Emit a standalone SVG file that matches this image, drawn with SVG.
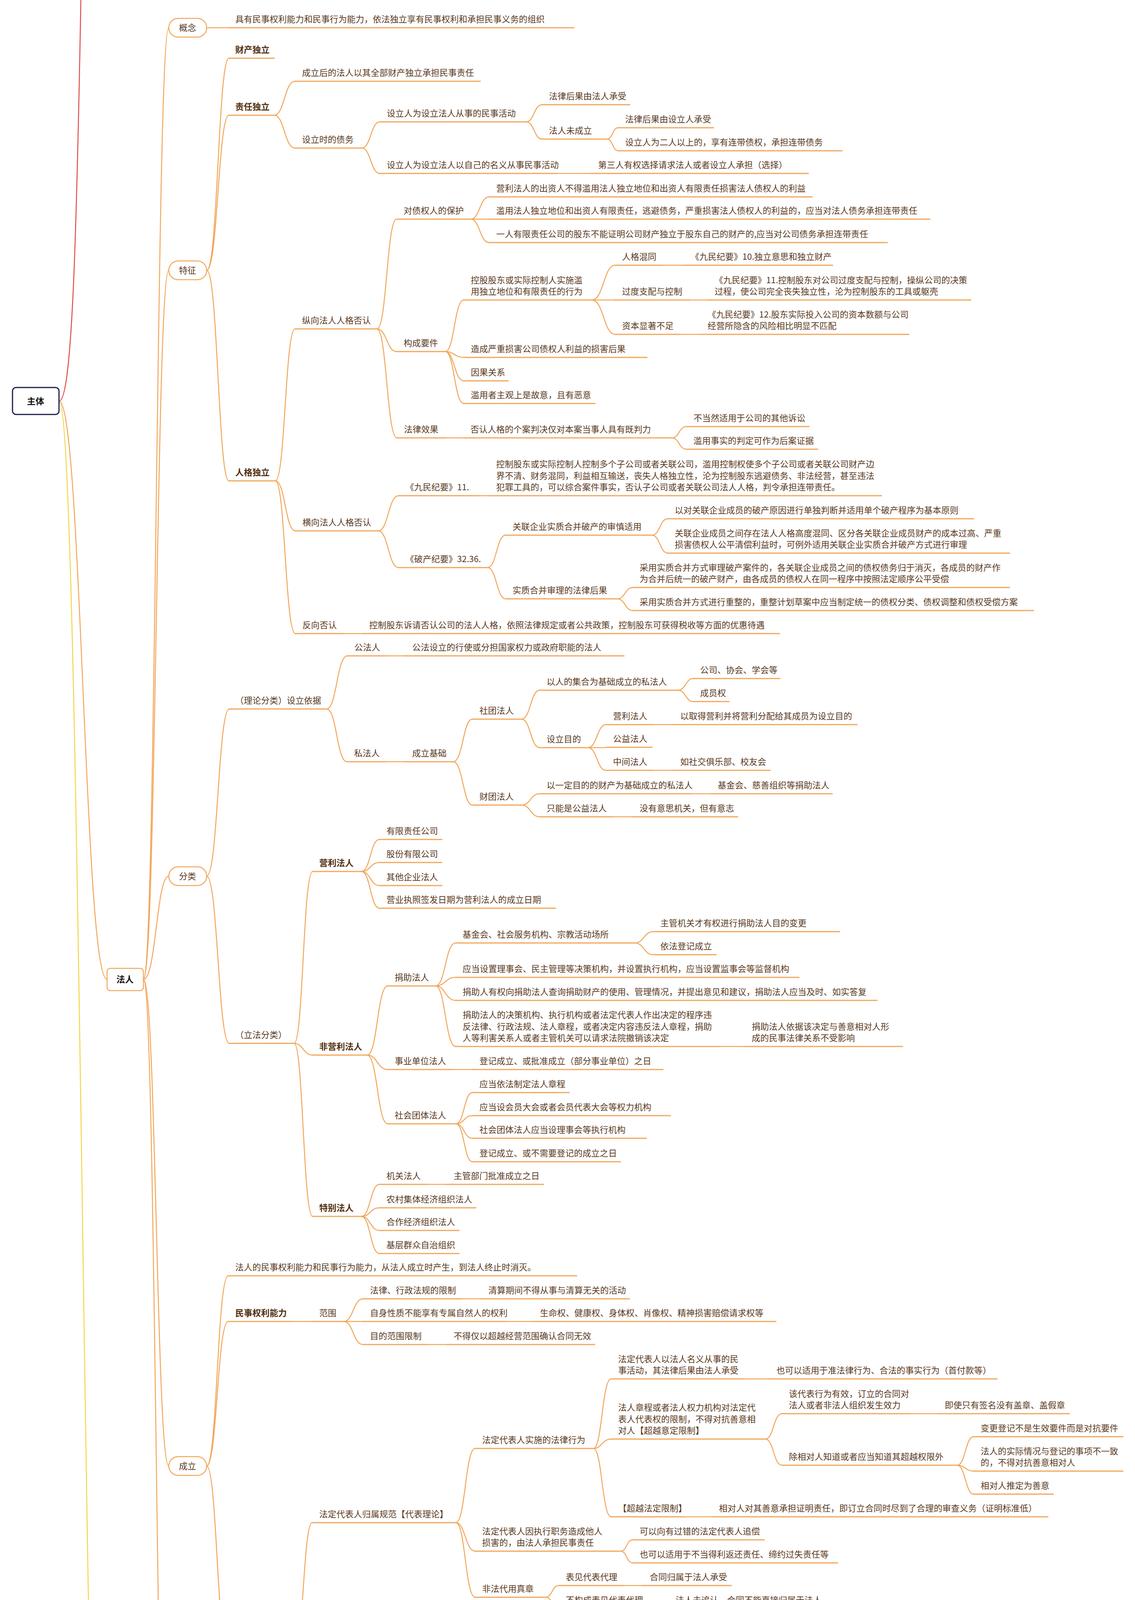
<svg xmlns="http://www.w3.org/2000/svg" width="2905" height="5677" viewBox="0 0 2905 5677">
<style>
.t{font-family:'Noto Sans CJK SC','Noto Sans',sans-serif;font-size:22px;fill:#5a3a1e}
.b{font-weight:700;fill:#52300f}
.k{font-family:'Noto Sans CJK SC','Noto Sans',sans-serif;font-size:22px;font-weight:700;fill:#111;text-anchor:middle}
.pt{text-anchor:middle}
.ty{font-family:'Noto Sans CJK SC','Noto Sans',sans-serif;font-size:22px;fill:#5b4a1c}
.u{stroke:#F2A65A;stroke-width:3;fill:none;stroke-linecap:round}
.uy{stroke:#F2D548;stroke-width:3;fill:none;stroke-linecap:round}
.c path{stroke:#F2A65A;stroke-width:2.5;fill:none}
.c path.y{stroke:#F2D548}
.c path.r{stroke:#E04A4A}
.pill{fill:#fff;stroke:#F2A65A;stroke-width:2.5}
.pilly{fill:#fff;stroke:#F2D548;stroke-width:2.5}
</style>
<rect width="2905" height="5677" fill="#fff"/>
<g id="connectors" class="c">
<path class="r" d="M151 1027 C185 1027 196 600 207 0"/>
<path d="M151 1027 C210 1027 215 2507 274 2507"/>
<path class="y" d="M151 1027 C210 1027 215 5395 274 5395"/>
<path d="M367 2507 C400 2507 400 71 432 71"/>
<path d="M367 2507 C400 2507 400 692 432 692"/>
<path d="M367 2507 C400 2507 400 2243 432 2243"/>
<path d="M367 2507 C400 2507 400 3753 432 3753"/>
<path d="M367 2507 C400 2507 400 4945 432 4945"/>
<path d="M529 71 H584"/>
<path d="M529 692 C558 692 558 149 586 149"/>
<path d="M529 692 C558 692 558 295 586 295"/>
<path d="M529 692 C558 692 558 1231 586 1231"/>
<path d="M702 295 C728 295 728 208 755 208"/>
<path d="M702 295 C728 295 728 379 755 379"/>
<path d="M926 379 C949 379 949 312 972 312"/>
<path d="M926 379 C949 379 949 444 972 444"/>
<path d="M1347 312 C1367 312 1367 268 1387 268"/>
<path d="M1347 312 C1367 312 1367 356 1387 356"/>
<path d="M1554 356 C1568 356 1568 327 1582 327"/>
<path d="M1554 356 C1568 356 1568 386 1582 386"/>
<path d="M1425 444 H1513"/>
<path d="M705 1231 C730 1231 730 842 755 842"/>
<path d="M705 1231 C730 1231 730 1359 756 1359"/>
<path d="M705 1231 C730 1231 730 1622 756 1622"/>
<path d="M965 842 C990 842 990 561 1015 561"/>
<path d="M965 842 C990 842 990 900 1015 900"/>
<path d="M965 842 C990 842 990 1121 1016 1121"/>
<path d="M1205 561 C1228 561 1228 504 1252 504"/>
<path d="M1205 561 H1252"/>
<path d="M1205 561 C1228 561 1228 621 1252 621"/>
<path d="M1140 900 C1163 900 1163 768 1187 768"/>
<path d="M1140 900 C1163 900 1163 915 1187 915"/>
<path d="M1140 900 C1163 900 1163 975 1187 975"/>
<path d="M1140 900 C1163 900 1163 1033 1187 1033"/>
<path d="M1515 768 C1545 768 1545 679 1574 679"/>
<path d="M1515 768 H1574"/>
<path d="M1515 768 C1545 768 1545 856 1574 856"/>
<path d="M1695 679 H1750"/>
<path d="M1765 768 H1811"/>
<path d="M1740 856 H1793"/>
<path d="M1140 1121 H1186"/>
<path d="M1720 1121 C1738 1121 1738 1092 1757 1092"/>
<path d="M1720 1121 C1738 1121 1738 1150 1757 1150"/>
<path d="M968 1359 C994 1359 994 1269 1020 1269"/>
<path d="M968 1359 C994 1359 994 1453 1020 1453"/>
<path d="M1230 1269 H1252"/>
<path d="M1248 1453 C1271 1453 1271 1370 1294 1370"/>
<path d="M1248 1453 C1271 1453 1271 1533 1294 1533"/>
<path d="M1669 1370 C1689 1370 1689 1328 1709 1328"/>
<path d="M1669 1370 C1689 1370 1689 1416 1709 1416"/>
<path d="M1580 1533 C1600 1533 1600 1504 1619 1504"/>
<path d="M1580 1533 C1600 1533 1600 1563 1619 1563"/>
<path d="M880 1622 H927"/>
<path d="M529 2243 C558 2243 558 1815 587 1815"/>
<path d="M529 2243 C558 2243 558 2671 587 2671"/>
<path d="M836 1815 C862 1815 862 1679 889 1679"/>
<path d="M836 1815 C862 1815 862 1950 888 1950"/>
<path d="M988 1679 H1037"/>
<path d="M988 1950 H1037"/>
<path d="M1160 1950 C1185 1950 1185 1841 1209 1841"/>
<path d="M1160 1950 C1185 1950 1185 2061 1209 2061"/>
<path d="M1335 1841 C1358 1841 1358 1767 1381 1767"/>
<path d="M1335 1841 C1358 1841 1358 1914 1381 1914"/>
<path d="M1735 1767 C1755 1767 1755 1737 1774 1737"/>
<path d="M1735 1767 C1755 1767 1755 1796 1774 1796"/>
<path d="M1505 1914 C1528 1914 1528 1855 1551 1855"/>
<path d="M1505 1914 H1551"/>
<path d="M1505 1914 C1528 1914 1528 1972 1551 1972"/>
<path d="M1672 1855 H1723"/>
<path d="M1672 1972 H1723"/>
<path d="M1335 2061 C1358 2061 1358 2032 1381 2032"/>
<path d="M1335 2061 C1358 2061 1358 2091 1381 2091"/>
<path d="M1768 2032 H1819"/>
<path d="M1568 2091 H1619"/>
<path d="M753 2671 C776 2671 776 2231 800 2231"/>
<path d="M753 2671 C776 2671 776 2701 800 2701"/>
<path d="M753 2671 C776 2671 776 3114 800 3114"/>
<path d="M925 2231 C948 2231 948 2149 971 2149"/>
<path d="M925 2231 C948 2231 948 2208 971 2208"/>
<path d="M925 2231 C948 2231 948 2267 971 2267"/>
<path d="M925 2231 C948 2231 948 2325 971 2325"/>
<path d="M940 2701 C966 2701 966 2524 992 2524"/>
<path d="M940 2701 C966 2701 966 2738 992 2738"/>
<path d="M940 2701 C966 2701 966 2877 992 2877"/>
<path d="M1115 2524 C1140 2524 1140 2414 1166 2414"/>
<path d="M1115 2524 C1140 2524 1140 2502 1166 2502"/>
<path d="M1115 2524 C1140 2524 1140 2561 1166 2561"/>
<path d="M1115 2524 C1140 2524 1140 2679 1166 2679"/>
<path d="M1625 2414 C1648 2414 1648 2385 1672 2385"/>
<path d="M1625 2414 C1648 2414 1648 2444 1672 2444"/>
<path d="M1840 2679 H1906"/>
<path d="M1157 2738 H1209"/>
<path d="M1167 2877 C1188 2877 1188 2797 1209 2797"/>
<path d="M1167 2877 C1188 2877 1188 2856 1209 2856"/>
<path d="M1167 2877 C1188 2877 1188 2914 1209 2914"/>
<path d="M1167 2877 C1188 2877 1188 2974 1209 2974"/>
<path d="M925 3114 C948 3114 948 3032 971 3032"/>
<path d="M925 3114 C948 3114 948 3092 971 3092"/>
<path d="M925 3114 C948 3114 948 3150 971 3150"/>
<path d="M925 3114 C948 3114 948 3209 971 3209"/>
<path d="M1092 3032 H1143"/>
<path d="M529 3753 C556 3753 556 3266 584 3266"/>
<path d="M529 3753 C556 3753 556 3383 584 3383"/>
<path d="M529 3753 C556 3753 556 4240 584 4240"/>
<path d="M746 3383 H799"/>
<path d="M880 3383 C904 3383 904 3325 929 3325"/>
<path d="M880 3383 H929"/>
<path d="M880 3383 C904 3383 904 3442 929 3442"/>
<path d="M1182 3325 H1232"/>
<path d="M1292 3383 H1364"/>
<path d="M1094 3442 H1143"/>
<path d="M753 4240 C776 4240 776 3898 799 3898"/>
<path d="M753 4240 C776 4240 776 4340 799 4340"/>
<path d="M753 4240 C776 4240 776 4582 799 4582"/>
<path d="M1167 3898 C1191 3898 1191 3708 1216 3708"/>
<path d="M1167 3898 C1191 3898 1191 3971 1216 3971"/>
<path d="M1167 3898 C1191 3898 1191 4089 1216 4089"/>
<path d="M1519 3708 C1541 3708 1541 3530 1564 3530"/>
<path d="M1519 3708 C1541 3708 1541 3684 1564 3684"/>
<path d="M1519 3708 C1541 3708 1541 3883 1564 3883"/>
<path d="M1905 3530 H1969"/>
<path d="M1959 3684 C1980 3684 1980 3619 2001 3619"/>
<path d="M1959 3684 C1980 3684 1980 3751 2001 3751"/>
<path d="M2330 3619 H2400"/>
<path d="M2450 3751 C2471 3751 2471 3678 2492 3678"/>
<path d="M2450 3751 C2471 3751 2471 3766 2492 3766"/>
<path d="M2450 3751 C2471 3751 2471 3825 2492 3825"/>
<path d="M1751 3883 H1822"/>
<path d="M1589 3971 C1604 3971 1604 3942 1619 3942"/>
<path d="M1589 3971 C1604 3971 1604 4001 1619 4001"/>
<path d="M1397 4089 C1413 4089 1413 4059 1430 4059"/>
<path d="M1397 4089 C1413 4089 1413 4118 1430 4118"/>
<path d="M1595 4059 H1645"/>
<path d="M1661 4118 H1711"/>
<path d="M1027 4340 C1043 4340 1043 4266 1060 4266"/>
<path d="M1027 4340 C1043 4340 1043 4414 1060 4414"/>
<path d="M1544 4266 C1562 4266 1562 4207 1580 4207"/>
<path d="M1544 4266 C1562 4266 1562 4325 1580 4325"/>
<path d="M2085 4207 C2108 4207 2108 4178 2131 4178"/>
<path d="M2085 4207 C2108 4207 2108 4237 2131 4237"/>
<path d="M1920 4325 H1989"/>
<path d="M1454 4414 C1475 4414 1475 4384 1496 4384"/>
<path d="M1454 4414 C1475 4414 1475 4443 1496 4443"/>
<path d="M925 4582 C948 4582 948 4502 971 4502"/>
<path d="M925 4582 C948 4582 948 4560 971 4560"/>
<path d="M925 4582 C948 4582 948 4619 971 4619"/>
<path d="M925 4582 C948 4582 948 4678 971 4678"/>
<path d="M1092 4678 H1143"/>
<path d="M529 4945 C556 4945 556 4838 584 4838"/>
<path d="M529 4945 C556 4945 556 5051 584 5051"/>
<path d="M670 4838 C691 4838 691 4764 712 4764"/>
<path d="M670 4838 C691 4838 691 4853 712 4853"/>
<path d="M670 4838 C691 4838 691 4911 712 4911"/>
<path d="M800 4764 C820 4764 820 4734 839 4734"/>
<path d="M800 4764 C820 4764 820 4793 839 4793"/>
<path d="M833 4853 H884"/>
<path d="M877 4911 H926"/>
<path d="M937 5051 C957 5051 957 4970 977 4970"/>
<path d="M937 5051 C957 5051 957 5030 977 5030"/>
<path d="M937 5051 C957 5051 957 5117 977 5117"/>
<path class="y" d="M434 5395 C465 5395 465 5210 497 5210"/>
<path class="y" d="M434 5395 C465 5395 465 5349 497 5349"/>
<path class="y" d="M434 5395 C465 5395 465 5493 497 5493"/>
<path class="y" d="M434 5395 C465 5395 465 5580 497 5580"/>
<path class="y" d="M593 5210 H649"/>
<path class="y" d="M593 5349 C621 5349 621 5289 649 5289"/>
<path class="y" d="M593 5349 H649"/>
<path class="y" d="M593 5349 C621 5349 621 5407 649 5407"/>
<path class="y" d="M593 5493 C621 5493 621 5463 649 5463"/>
<path class="y" d="M593 5493 C621 5493 621 5523 649 5523"/>
<path class="y" d="M593 5580 H649"/>
</g>

<g id="root"><rect x="32" y="992" width="119" height="69" rx="9" fill="#fff" stroke="#1B1F4B" stroke-width="3"/><text class="k" x="91" y="1035">主体</text></g>
<g id="faren"><rect x="274" y="2479" width="93" height="57" rx="8" fill="#fff" stroke="#F2A65A" stroke-width="2.5"/><text class="k" x="320" y="2515">法人</text></g>
<g id="p-gainian"><rect class="pill" x="432" y="47" width="97" height="48" rx="24"/><text class="t pt" x="480" y="79">概念</text></g>
<g id="p-tezheng"><rect class="pill" x="432" y="668" width="97" height="48" rx="24"/><text class="t pt" x="480" y="700">特征</text></g>
<g id="p-fenlei"><rect class="pill" x="432" y="2219" width="97" height="48" rx="24"/><text class="t pt" x="480" y="2251">分类</text></g>
<g id="p-chengli"><rect class="pill" x="432" y="3729" width="97" height="48" rx="24"/><text class="t pt" x="480" y="3761">成立</text></g>
<g id="p-zhongzhi"><rect class="pill" x="432" y="4921" width="97" height="48" rx="24"/><text class="t pt" x="480" y="4953">终止</text></g>

<g id="n-gn1"><path class="u" d="M584 71 H1469"/><text class="t" x="602" y="57">具有民事权利能力和民事行为能力，依法独立享有民事权利和承担民事义务的组织</text></g>
<g id="n-cczl"><path class="u" d="M586 149 H702"/><text class="t b" x="602" y="135">财产独立</text></g>
<g id="n-zrzl"><path class="u" d="M586 295 H702"/><text class="t b" x="602" y="281">责任独立</text></g>
<g id="n-rgzl"><path class="u" d="M586 1231 H705"/><text class="t b" x="602" y="1217">人格独立</text></g>
<g id="n-z1"><path class="u" d="M755 208 H1229"/><text class="t" x="773" y="194">成立后的法人以其全部财产独立承担民事责任</text></g>
<g id="n-z2"><path class="u" d="M755 379 H926"/><text class="t" x="773" y="365">设立时的债务</text></g>
<g id="n-z21"><path class="u" d="M972 312 H1347"/><text class="t" x="990" y="298">设立人为设立法人从事的民事活动</text></g>
<g id="n-z211"><path class="u" d="M1387 268 H1612"/><text class="t" x="1405" y="254">法律后果由法人承受</text></g>
<g id="n-z212"><path class="u" d="M1387 356 H1554"/><text class="t" x="1405" y="342">法人未成立</text></g>
<g id="n-z2121"><path class="u" d="M1582 327 H1826"/><text class="t" x="1600" y="313">法律后果由设立人承受</text></g>
<g id="n-z2122"><path class="u" d="M1582 386 H2155"/><text class="t" x="1600" y="372">设立人为二人以上的，享有连带债权，承担连带债务</text></g>
<g id="n-z22"><path class="u" d="M972 444 H1425"/><text class="t" x="990" y="430">设立人为设立法人以自己的名义从事民事活动</text></g>
<g id="n-z221"><path class="u" d="M1513 444 H2069"/><text class="t" x="1531" y="430">第三人有权选择请求法人或者设立人承担（选择）</text></g>

<g id="n-zx"><path class="u" d="M755 842 H965"/><text class="t" x="773" y="828">纵向法人人格否认</text></g>
<g id="n-zx1"><path class="u" d="M1015 561 H1205"/><text class="t" x="1033" y="547">对债权人的保护</text></g>
<g id="n-zx11"><path class="u" d="M1252 504 H2079"/><text class="t" x="1270" y="490">营利法人的出资人不得滥用法人独立地位和出资人有限责任损害法人债权人的利益</text></g>
<g id="n-zx12"><path class="u" d="M1252 561 H2380"/><text class="t" x="1270" y="547">滥用法人独立地位和出资人有限责任，逃避债务，严重损害法人债权人的利益的，应当对法人债务承担连带责任</text></g>
<g id="n-zx13"><path class="u" d="M1252 621 H2271"/><text class="t" x="1270" y="607">一人有限责任公司的股东不能证明公司财产独立于股东自己的财产的,应当对公司债务承担连带责任</text></g>
<g id="n-zx2"><path class="u" d="M1015 900 H1140"/><text class="t" x="1033" y="886">构成要件</text></g>
<g id="n-zx21"><path class="u" d="M1187 768 H1515"/><text class="t" x="1205"><tspan x="1205" y="724.5">控股股东或实际控制人实施滥</tspan><tspan x="1205" y="754">用独立地位和有限责任的行为</tspan></text></g>
<g id="n-zx211"><path class="u" d="M1574 679 H1695"/><text class="t" x="1592" y="665">人格混同</text></g>
<g id="n-zx2111"><path class="u" d="M1750 679 H2131"/><text class="t" x="1768" y="665">《九民纪要》10.独立意思和独立财产</text></g>
<g id="n-zx212"><path class="u" d="M1574 768 H1765"/><text class="t" x="1592" y="754">过度支配与控制</text></g>
<g id="n-zx2121"><path class="u" d="M1811 768 H2485"/><text class="t" x="1829"><tspan x="1829" y="724.5">《九民纪要》11.控制股东对公司过度支配与控制，操纵公司的决策</tspan><tspan x="1829" y="754">过程，使公司完全丧失独立性，沦为控制股东的工具或躯壳</tspan></text></g>
<g id="n-zx213"><path class="u" d="M1574 856 H1740"/><text class="t" x="1592" y="842">资本显著不足</text></g>
<g id="n-zx2131"><path class="u" d="M1793 856 H2326"/><text class="t" x="1811"><tspan x="1811" y="812.5">《九民纪要》12.股东实际投入公司的资本数额与公司</tspan><tspan x="1811" y="842">经营所隐含的风险相比明显不匹配</tspan></text></g>
<g id="n-zx22"><path class="u" d="M1187 915 H1656"/><text class="t" x="1205" y="901">造成严重损害公司债权人利益的损害后果</text></g>
<g id="n-zx23"><path class="u" d="M1187 975 H1301"/><text class="t" x="1205" y="961">因果关系</text></g>
<g id="n-zx24"><path class="u" d="M1187 1033 H1523"/><text class="t" x="1205" y="1019">滥用者主观上是故意，且有恶意</text></g>
<g id="n-zx3"><path class="u" d="M1016 1121 H1140"/><text class="t" x="1034" y="1107">法律效果</text></g>
<g id="n-zx31"><path class="u" d="M1186 1121 H1720"/><text class="t" x="1204" y="1107">否认人格的个案判决仅对本案当事人具有既判力</text></g>
<g id="n-zx311"><path class="u" d="M1757 1092 H2071"/><text class="t" x="1775" y="1078">不当然适用于公司的其他诉讼</text></g>
<g id="n-zx312"><path class="u" d="M1757 1150 H2093"/><text class="t" x="1775" y="1136">滥用事实的判定可作为后案证据</text></g>

<g id="n-hx"><path class="u" d="M756 1359 H968"/><text class="t" x="774" y="1345">横向法人人格否认</text></g>
<g id="n-hx1"><path class="u" d="M1020 1269 H1230"/><text class="t" x="1038" y="1255">《九民纪要》11.</text></g>
<g id="n-hx11"><path class="u" d="M1252 1269 H2256"/><text class="t" x="1270"><tspan x="1270" y="1196">控制股东或实际控制人控制多个子公司或者关联公司，滥用控制权使多个子公司或者关联公司财产边</tspan><tspan x="1270" y="1225.5">界不清、财务混同，利益相互输送，丧失人格独立性，沦为控制股东逃避债务、非法经营，甚至违法</tspan><tspan x="1270" y="1255">犯罪工具的，可以综合案件事实，否认子公司或者关联公司法人人格，判令承担连带责任。</tspan></text></g>
<g id="n-hx2"><path class="u" d="M1020 1453 H1248"/><text class="t" x="1038" y="1439">《破产纪要》32.36.</text></g>
<g id="n-hx21"><path class="u" d="M1294 1370 H1669"/><text class="t" x="1312" y="1356">关联企业实质合并破产的审慎适用</text></g>
<g id="n-hx211"><path class="u" d="M1709 1328 H2492"/><text class="t" x="1727" y="1314">以对关联企业成员的破产原因进行单独判断并适用单个破产程序为基本原则</text></g>
<g id="n-hx212"><path class="u" d="M1709 1416 H2584"/><text class="t" x="1727"><tspan x="1727" y="1372.5">关联企业成员之间存在法人人格高度混同、区分各关联企业成员财产的成本过高、严重</tspan><tspan x="1727" y="1402">损害债权人公平清偿利益时，可例外适用关联企业实质合并破产方式进行审理</tspan></text></g>
<g id="n-hx22"><path class="u" d="M1294 1533 H1580"/><text class="t" x="1312" y="1519">实质合并审理的法律后果</text></g>
<g id="n-hx221"><path class="u" d="M1619 1504 H2584"/><text class="t" x="1637"><tspan x="1637" y="1460.5">采用实质合并方式审理破产案件的，各关联企业成员之间的债权债务归于消灭，各成员的财产作</tspan><tspan x="1637" y="1490">为合并后统一的破产财产，由各成员的债权人在同一程序中按照法定顺序公平受偿</tspan></text></g>
<g id="n-hx222"><path class="u" d="M1619 1563 H2645"/><text class="t" x="1637" y="1549">采用实质合并方式进行重整的，重整计划草案中应当制定统一的债权分类、债权调整和债权受偿方案</text></g>
<g id="n-fx"><path class="u" d="M756 1622 H880"/><text class="t" x="774" y="1608">反向否认</text></g>
<g id="n-fx1"><path class="u" d="M927 1622 H1995"/><text class="t" x="945" y="1608">控制股东诉请否认公司的法人人格，依照法律规定或者公共政策，控制股东可获得税收等方面的优惠待遇</text></g>

<g id="n-ll"><path class="u" d="M587 1815 H836"/><text class="t" x="602" y="1801">（理论分类）设立依据</text></g>
<g id="n-gfr"><path class="u" d="M889 1679 H988"/><text class="t" x="907" y="1665">公法人</text></g>
<g id="n-gfr1"><path class="u" d="M1037 1679 H1597"/><text class="t" x="1055" y="1665">公法设立的行使或分担国家权力或政府职能的法人</text></g>
<g id="n-sfr"><path class="u" d="M888 1950 H988"/><text class="t" x="906" y="1936">私法人</text></g>
<g id="n-cljc"><path class="u" d="M1037 1950 H1160"/><text class="t" x="1055" y="1936">成立基础</text></g>
<g id="n-stfr"><path class="u" d="M1209 1841 H1335"/><text class="t" x="1227" y="1827">社团法人</text></g>
<g id="n-st1"><path class="u" d="M1381 1767 H1735"/><text class="t" x="1399" y="1753">以人的集合为基础成立的私法人</text></g>
<g id="n-st11"><path class="u" d="M1774 1737 H1996"/><text class="t" x="1792" y="1723">公司、协会、学会等</text></g>
<g id="n-st12"><path class="u" d="M1774 1796 H1866"/><text class="t" x="1792" y="1782">成员权</text></g>
<g id="n-st2"><path class="u" d="M1381 1914 H1505"/><text class="t" x="1399" y="1900">设立目的</text></g>
<g id="n-st21"><path class="u" d="M1551 1855 H1672"/><text class="t" x="1569" y="1841">营利法人</text></g>
<g id="n-st211"><path class="u" d="M1723 1855 H2194"/><text class="t" x="1741" y="1841">以取得营利并将营利分配给其成员为设立目的</text></g>
<g id="n-st22"><path class="u" d="M1551 1913 H1669"/><text class="t" x="1569" y="1899">公益法人</text></g>
<g id="n-st23"><path class="u" d="M1551 1972 H1672"/><text class="t" x="1569" y="1958">中间法人</text></g>
<g id="n-st231"><path class="u" d="M1723 1972 H1971"/><text class="t" x="1741" y="1958">如社交俱乐部、校友会</text></g>
<g id="n-ctfr"><path class="u" d="M1209 2061 H1335"/><text class="t" x="1227" y="2047">财团法人</text></g>
<g id="n-ct1"><path class="u" d="M1381 2032 H1768"/><text class="t" x="1399" y="2018">以一定目的的财产为基础成立的私法人</text></g>
<g id="n-ct11"><path class="u" d="M1819 2032 H2130"/><text class="t" x="1837" y="2018">基金会、慈善组织等捐助法人</text></g>
<g id="n-ct2"><path class="u" d="M1381 2091 H1568"/><text class="t" x="1399" y="2077">只能是公益法人</text></g>
<g id="n-ct21"><path class="u" d="M1619 2091 H1888"/><text class="t" x="1637" y="2077">没有意思机关，但有意志</text></g>

<g id="n-lf"><path class="u" d="M587 2671 H753"/><text class="t" x="602" y="2657">（立法分类）</text></g>
<g id="n-ylfr"><path class="u" d="M800 2231 H925"/><text class="t b" x="817" y="2217">营利法人</text></g>
<g id="n-yl1"><path class="u" d="M971 2149 H1131"/><text class="t" x="989" y="2135">有限责任公司</text></g>
<g id="n-yl2"><path class="u" d="M971 2208 H1131"/><text class="t" x="989" y="2194">股份有限公司</text></g>
<g id="n-yl3"><path class="u" d="M971 2267 H1131"/><text class="t" x="989" y="2253">其他企业法人</text></g>
<g id="n-yl4"><path class="u" d="M971 2325 H1422"/><text class="t" x="989" y="2311">营业执照签发日期为营利法人的成立日期</text></g>
<g id="n-fylfr"><path class="u" d="M800 2701 H940"/><text class="t b" x="817" y="2687">非营利法人</text></g>
<g id="n-jzfr"><path class="u" d="M992 2524 H1115"/><text class="t" x="1010" y="2510">捐助法人</text></g>
<g id="n-jz1"><path class="u" d="M1166 2414 H1625"/><text class="t" x="1184" y="2400">基金会、社会服务机构、宗教活动场所</text></g>
<g id="n-jz11"><path class="u" d="M1672 2385 H2149"/><text class="t" x="1690" y="2371">主管机关才有权进行捐助法人目的变更</text></g>
<g id="n-jz12"><path class="u" d="M1672 2444 H1833"/><text class="t" x="1690" y="2430">依法登记成立</text></g>
<g id="n-jz2"><path class="u" d="M1166 2502 H2045"/><text class="t" x="1184" y="2488">应当设置理事会、民主管理等决策机构，并设置执行机构，应当设置监事会等监督机构</text></g>
<g id="n-jz3"><path class="u" d="M1166 2561 H2245"/><text class="t" x="1184" y="2547">捐助人有权向捐助法人查询捐助财产的使用、管理情况，并提出意见和建议，捐助法人应当及时、如实答复</text></g>
<g id="n-jz4"><path class="u" d="M1166 2679 H1840"/><text class="t" x="1184"><tspan x="1184" y="2606">捐助法人的决策机构、执行机构或者法定代表人作出决定的程序违</tspan><tspan x="1184" y="2635.5">反法律、行政法规、法人章程，或者决定内容违反法人章程，捐助</tspan><tspan x="1184" y="2665">人等利害关系人或者主管机关可以请求法院撤销该决定</tspan></text></g>
<g id="n-jz41"><path class="u" d="M1906 2679 H2310"/><text class="t" x="1924"><tspan x="1924" y="2635.5">捐助法人依据该决定与善意相对人形</tspan><tspan x="1924" y="2665">成的民事法律关系不受影响</tspan></text></g>
<g id="n-sydw"><path class="u" d="M992 2738 H1157"/><text class="t" x="1010" y="2724">事业单位法人</text></g>
<g id="n-sydw1"><path class="u" d="M1209 2738 H1697"/><text class="t" x="1227" y="2724">登记成立、或批准成立（部分事业单位）之日</text></g>
<g id="n-shtt"><path class="u" d="M992 2877 H1167"/><text class="t" x="1010" y="2863">社会团体法人</text></g>
<g id="n-sh1"><path class="u" d="M1209 2797 H1457"/><text class="t" x="1227" y="2783">应当依法制定法人章程</text></g>
<g id="n-sh2"><path class="u" d="M1209 2856 H1716"/><text class="t" x="1227" y="2842">应当设会员大会或者会员代表大会等权力机构</text></g>
<g id="n-sh3"><path class="u" d="M1209 2914 H1654"/><text class="t" x="1227" y="2900">社会团体法人应当设理事会等执行机构</text></g>
<g id="n-sh4"><path class="u" d="M1209 2974 H1588"/><text class="t" x="1227" y="2960">登记成立、或不需要登记的成立之日</text></g>
<g id="n-tbfr"><path class="u" d="M800 3114 H925"/><text class="t b" x="817" y="3100">特别法人</text></g>
<g id="n-tb1"><path class="u" d="M971 3032 H1092"/><text class="t" x="989" y="3018">机关法人</text></g>
<g id="n-tb11"><path class="u" d="M1143 3032 H1391"/><text class="t" x="1161" y="3018">主管部门批准成立之日</text></g>
<g id="n-tb2"><path class="u" d="M971 3092 H1218"/><text class="t" x="989" y="3078">农村集体经济组织法人</text></g>
<g id="n-tb3"><path class="u" d="M971 3150 H1175"/><text class="t" x="989" y="3136">合作经济组织法人</text></g>
<g id="n-tb4"><path class="u" d="M971 3209 H1175"/><text class="t" x="989" y="3195">基层群众自治组织</text></g>

<g id="n-cl1"><path class="u" d="M584 3266 H1476"/><text class="t" x="602" y="3252">法人的民事权利能力和民事行为能力，从法人成立时产生，到法人终止时消灭。</text></g>
<g id="n-qlnl"><path class="u" d="M584 3383 H746"/><text class="t b" x="602" y="3369">民事权利能力</text></g>
<g id="n-fw"><path class="u" d="M799 3383 H880"/><text class="t" x="817" y="3369">范围</text></g>
<g id="n-fw1"><path class="u" d="M929 3325 H1182"/><text class="t" x="947" y="3311">法律、行政法规的限制</text></g>
<g id="n-fw11"><path class="u" d="M1232 3325 H1611"/><text class="t" x="1250" y="3311">清算期间不得从事与清算无关的活动</text></g>
<g id="n-fw2"><path class="u" d="M929 3383 H1292"/><text class="t" x="947" y="3369">自身性质不能享有专属自然人的权利</text></g>
<g id="n-fw21"><path class="u" d="M1364 3383 H1986"/><text class="t" x="1382" y="3369">生命权、健康权、身体权、肖像权、精神损害赔偿请求权等</text></g>
<g id="n-fw3"><path class="u" d="M929 3442 H1094"/><text class="t" x="947" y="3428">目的范围限制</text></g>
<g id="n-fw31"><path class="u" d="M1143 3442 H1522"/><text class="t" x="1161" y="3428">不得仅以超越经营范围确认合同无效</text></g>
<g id="n-xwnl"><path class="u" d="M584 4240 H753"/><text class="t b" x="602" y="4226">民事行为能力</text></g>
<g id="n-fd"><path class="u" d="M799 3898 H1167"/><text class="t" x="817" y="3884">法定代表人归属规范【代表理论】</text></g>
<g id="n-fd1"><path class="u" d="M1216 3708 H1519"/><text class="t" x="1234" y="3694">法定代表人实施的法律行为</text></g>
<g id="n-fd11"><path class="u" d="M1564 3530 H1905"/><text class="t" x="1582"><tspan x="1582" y="3486.5">法定代表人以法人名义从事的民</tspan><tspan x="1582" y="3516">事活动，其法律后果由法人承受</tspan></text></g>
<g id="n-fd111"><path class="u" d="M1969 3530 H2552"/><text class="t" x="1987" y="3516">也可以适用于准法律行为、合法的事实行为（首付款等）</text></g>
<g id="n-fd12"><path class="u" d="M1564 3684 H1959"/><text class="t" x="1582"><tspan x="1582" y="3611">法人章程或者法人权力机构对法定代</tspan><tspan x="1582" y="3640.5">表人代表权的限制，不得对抗善意相</tspan><tspan x="1582" y="3670">对人【超越意定限制】</tspan></text></g>
<g id="n-fd121"><path class="u" d="M2001 3619 H2330"/><text class="t" x="2019"><tspan x="2019" y="3575.5">该代表行为有效，订立的合同对</tspan><tspan x="2019" y="3605">法人或者非法人组织发生效力</tspan></text></g>
<g id="n-fd1211"><path class="u" d="M2400 3619 H2737"/><text class="t" x="2418" y="3605">即使只有签名没有盖章、盖假章</text></g>
<g id="n-fd122"><path class="u" d="M2001 3751 H2450"/><text class="t" x="2019" y="3737">除相对人知道或者应当知道其超越权限外</text></g>
<g id="n-fd1221"><path class="u" d="M2492 3678 H2874"/><text class="t" x="2510" y="3664">变更登记不是生效要件而是对抗要件</text></g>
<g id="n-fd1222"><path class="u" d="M2492 3766 H2874"/><text class="t" x="2510"><tspan x="2510" y="3722.5">法人的实际情况与登记的事项不一致</tspan><tspan x="2510" y="3752">的，不得对抗善意相对人</tspan></text></g>
<g id="n-fd1223"><path class="u" d="M2492 3825 H2696"/><text class="t" x="2510" y="3811">相对人推定为善意</text></g>
<g id="n-fd13"><path class="u" d="M1564 3883 H1751"/><text class="t" x="1582" y="3869">【超越法定限制】</text></g>
<g id="n-fd131"><path class="u" d="M1822 3883 H2682"/><text class="t" x="1840" y="3869">相对人对其善意承担证明责任，即订立合同时尽到了合理的审查义务（证明标准低）</text></g>
<g id="n-fd2"><path class="u" d="M1216 3971 H1589"/><text class="t" x="1234"><tspan x="1234" y="3927.5">法定代表人因执行职务造成他人</tspan><tspan x="1234" y="3957">损害的，由法人承担民事责任</tspan></text></g>
<g id="n-fd21"><path class="u" d="M1619 3942 H1956"/><text class="t" x="1637" y="3928">可以向有过错的法定代表人追偿</text></g>
<g id="n-fd22"><path class="u" d="M1619 4001 H2144"/><text class="t" x="1637" y="3987">也可以适用于不当得利返还责任、缔约过失责任等</text></g>
<g id="n-fd3"><path class="u" d="M1216 4089 H1397"/><text class="t" x="1234" y="4075">非法代用真章</text></g>
<g id="n-fd31"><path class="u" d="M1430 4059 H1595"/><text class="t" x="1448" y="4045">表见代表代理</text></g>
<g id="n-fd311"><path class="u" d="M1645 4059 H1872"/><text class="t" x="1663" y="4045">合同归属于法人承受</text></g>
<g id="n-fd32"><path class="u" d="M1430 4118 H1661"/><text class="t" x="1448" y="4104">不构成表见代表代理</text></g>
<g id="n-fd321"><path class="u" d="M1711 4118 H2160"/><text class="t" x="1729" y="4104">法人未追认，合同不能直接归属于法人</text></g>
<g id="n-gz"><path class="u" d="M799 4340 H1027"/><text class="t" x="817" y="4326">工作人员归属规范</text></g>
<g id="n-gz1"><path class="u" d="M1060 4266 H1544"/><text class="t" x="1078" y="4252">工作人员实施的法律行为【直接代理理论】</text></g>
<g id="n-gz11"><path class="u" d="M1580 4207 H2085"/><text class="t" x="1598"><tspan x="1598" y="4163.5">就其职权范围内的事项，以法人或者非法人组织</tspan><tspan x="1598" y="4193">的名义实施的民事法律行为（职务授权）</tspan></text></g>
<g id="n-gz111"><path class="u" d="M2131 4178 H2466"/><text class="t" x="2149" y="4164">对法人或者非法人组织发生效力</text></g>
<g id="n-gz112"><path class="u" d="M2131 4237 H2401"/><text class="t" x="2149" y="4223">并不是合同效力判断规则</text></g>
<g id="n-gz12"><path class="u" d="M1580 4325 H1920"/><text class="t" x="1598"><tspan x="1598" y="4281.5">法人或者非法人组织对执行其工</tspan><tspan x="1598" y="4311">作任务的人员职权范围的限制</tspan></text></g>
<g id="n-gz121"><path class="u" d="M1989 4325 H2213"/><text class="t" x="2007" y="4311">不得对抗善意相对人</text></g>
<g id="n-gz2"><path class="u" d="M1060 4414 H1454"/><text class="t" x="1078"><tspan x="1078" y="4370.5">用人单位的工作人员因执行工作任务</tspan><tspan x="1078" y="4400">造成他人损害【报偿理论】</tspan></text></g>
<g id="n-gz21"><path class="u" d="M1496 4384 H2037"/><text class="t" x="1514" y="4370">由用人单位承担侵权责任【无过错的替代责任】</text></g>
<g id="n-gz22"><path class="u" d="M1496 4443 H1987"/><text class="t" x="1514" y="4429">可以向有故意或者重大过失的工作人员追偿</text></g>
<g id="n-jg"><path class="u" d="M799 4582 H925"/><text class="t" x="817" y="4568">法人机关</text></g>
<g id="n-jg1"><path class="u" d="M971 4502 H1087"/><text class="t" x="989" y="4488">意思机关</text></g>
<g id="n-jg2"><path class="u" d="M971 4560 H1087"/><text class="t" x="989" y="4546">执行机关</text></g>
<g id="n-jg3"><path class="u" d="M971 4619 H1110"/><text class="t" x="989" y="4605">法定代表人</text></g>
<g id="n-jg4"><path class="u" d="M971 4678 H1092"/><text class="t" x="989" y="4664">监督机关</text></g>
<g id="n-jg41"><path class="u" d="M1143 4678 H1588"/><text class="t" x="1161" y="4664">仅公司法人、捐助法人应设立监督机关</text></g>

<g id="n-yy"><path class="u" d="M584 4838 H670"/><text class="t" x="602" y="4824">原因</text></g>
<g id="n-js"><path class="u" d="M712 4764 H800"/><text class="t" x="730" y="4750">解散</text></g>
<g id="n-js1"><path class="u" d="M839 4734 H1301"/><text class="t" x="857" y="4720">清算结束并完成法人注销登记时，法人终止</text></g>
<g id="n-js2"><path class="u" d="M839 4793 H1394"/><text class="t" x="857" y="4779">依法不需要办理法人登记的，清算结束时，法人终止</text></g>
<g id="n-xgpc"><path class="u" d="M712 4853 H833"/><text class="t" x="730" y="4839">宣告破产</text></g>
<g id="n-xgpc1"><path class="u" d="M884 4853 H1463"/><text class="t" x="902" y="4839">依法进行破产清算并完成法人注销登记时，法人终止</text></g>
<g id="n-fdqt"><path class="u" d="M712 4911 H877"/><text class="t" x="730" y="4897">法定其他原因</text></g>
<g id="n-fdqt1"><path class="u" d="M926 4911 H1110"/><text class="t" x="944" y="4897">机关法人被撤销</text></g>
<g id="n-gy"><path class="u" d="M584 5051 H937"/><text class="t" x="602" y="5037">公益目的成立的非营利法人终止</text></g>
<g id="n-gy1"><path class="u" d="M977 4970 H1460"/><text class="t" x="995" y="4956">不得向出资人、设立人或者会员分配剩余财产</text></g>
<g id="n-gy2"><path class="u" d="M977 5030 H1696"/><text class="t" x="995" y="5016">剩余财产应当按照法人章程的规定或者权力机构的决议用于公益目的</text></g>
<g id="n-gy3"><path class="u" d="M977 5117 H1664"/><text class="t" x="995"><tspan x="995" y="5073.5">无法按照法人章程的规定或者权力机构的决议处理的，由主管机关主</tspan><tspan x="995" y="5103">持转给宗旨相同或者相近的法人，并向社会公告</tspan></text></g>

<g id="fifrzz"><rect x="274" y="5366" width="160" height="58" rx="8" fill="#fff" stroke="#F2D548" stroke-width="2.5"/><text class="k" x="354" y="5403">非法人组织</text></g>
<g id="py-gn"><rect class="pilly" x="497" y="5186" width="96" height="48" rx="24"/><text class="ty pt" x="545" y="5218">概念</text></g>
<g id="py-bk"><rect class="pilly" x="497" y="5325" width="96" height="48" rx="24"/><text class="ty pt" x="545" y="5357">包括</text></g>
<g id="py-zr"><rect class="pilly" x="497" y="5469" width="96" height="48" rx="24"/><text class="ty pt" x="545" y="5501">责任</text></g>
<g id="py-js"><rect class="pilly" x="497" y="5556" width="96" height="48" rx="24"/><text class="ty pt" x="545" y="5588">解散</text></g>
<g id="ny-gn1"><path class="uy" d="M649 5210 H1316"/><text class="ty" x="667" y="5196">不具有法人资格，但是能够依法以自己的名义从事民事活动的组织</text></g>
<g id="ny-bk1"><path class="uy" d="M649 5289 H810"/><text class="ty" x="667" y="5275">个人独资企业</text></g>
<g id="ny-bk2"><path class="uy" d="M649 5349 H765"/><text class="ty" x="667" y="5335">合伙企业</text></g>
<g id="ny-bk3"><path class="uy" d="M649 5407 H986"/><text class="ty" x="667" y="5393">不具有法人资格的专业服务机构</text></g>
<g id="ny-zr1"><path class="uy" d="M649 5463 H1008"/><text class="ty" x="667" y="5449">非法人组织的财产不足以清偿债务</text></g>
<g id="ny-zr2"><path class="uy" d="M649 5523 H986"/><text class="ty" x="667" y="5509">出资人或者设立人承担无限责任</text></g>
<g id="ny-js1"><path class="uy" d="M649 5580 H852"/><text class="ty" x="667" y="5566">应当依法进行清算</text></g>

<text x="1960" y="5590" font-family="'Noto Sans CJK SC','Noto Sans',sans-serif" font-size="86" fill="#c6c6c6" stroke="#ffffff" stroke-width="1">知乎 @民事诉讼乔三哥</text>
<text x="1291" y="5651" font-family="'Open Sans','Liberation Sans',sans-serif" font-size="28" fill="#c8c8c8">Presented with XMind</text>
</svg>
